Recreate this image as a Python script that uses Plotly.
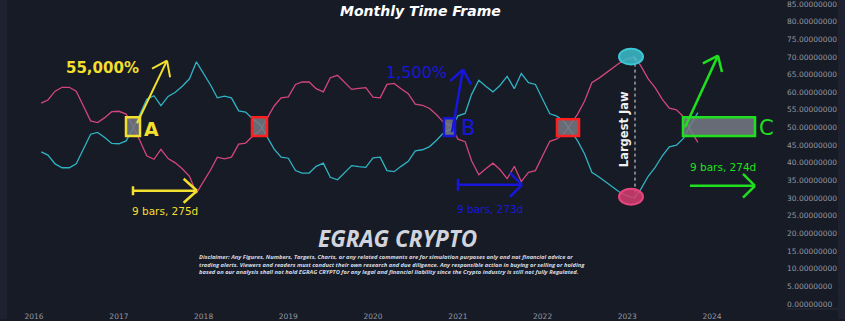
import math
import pandas as pd
import plotly.graph_objects as go

# ---------------- data (monthly readings) ----------------
months = pd.date_range("2016-02-01", periods=94, freq="MS")

cyan_vals = [43.1, 42.2, 39.7, 38.6, 38.6, 39.7, 43.9, 48.1, 48.6, 47.2,
             45.5, 45.4, 46.2, 49.5, 53.7, 58.0, 59.0, 56.2, 58.8, 60.0,
             61.7, 63.8, 68.6, 65.3, 61.9, 58.4, 58.9, 58.4, 54.7, 54.4,
             52.4, 50.9, 47.5, 43.9, 41.6, 41.3, 37.8, 37.1, 37.1, 39.0,
             39.9, 35.9, 35.2, 37.2, 39.2, 38.9, 38.7, 41.4, 41.6, 37.8,
             37.5, 39.0, 40.4, 43.4, 43.7, 44.6, 46.4, 48.6, 49.5, 53.3,
             54.0, 59.4, 63.4, 61.7, 60.1, 61.9, 64.5, 61.0, 65.3, 62.7,
             62.2, 58.0, 53.9, 53.3, 51.9, 49.1, 46.2, 42.5, 37.3, 36.0,
             34.5, 33.0, 31.6, 30.6, 30.0, 32.6, 36.2, 38.7, 42.0, 44.5,
             45.0, 47.0, 50.8, 54.2]

pink_vals = [56.9, 57.8, 60.3, 61.4, 61.4, 60.3, 56.1, 51.9, 51.4, 52.8,
             54.5, 54.6, 53.8, 50.5, 46.3, 42.0, 41.0, 43.8, 41.2, 40.0,
             38.3, 36.2, 31.4, 34.7, 38.1, 41.6, 41.1, 41.6, 45.3, 45.6,
             47.6, 49.1, 52.5, 56.1, 58.4, 58.7, 62.2, 62.9, 62.9, 61.0,
             60.1, 64.1, 64.8, 62.8, 60.8, 61.1, 61.3, 58.6, 58.4, 62.2,
             62.5, 61.0, 59.6, 56.6, 56.3, 55.4, 53.6, 51.4, 50.5, 46.7,
             46.0, 40.6, 36.6, 38.3, 39.9, 38.1, 35.5, 39.0, 34.7, 37.3,
             37.8, 42.0, 46.1, 46.7, 48.1, 50.9, 53.8, 57.5, 62.7, 64.0,
             65.5, 67.0, 68.4, 69.4, 70.0, 67.4, 63.8, 61.3, 58.0, 55.5,
             55.0, 53.0, 49.2, 45.8]

title_text = "Monthly Time Frame"
brand_text = "EGRAG CRYPTO"
disclaimer_lines = [
    "Disclaimer: Any Figures, Numbers, Targets, Charts, or any related comments are for simulation purposes only and not financial advice or",
    "trading alerts. Viewers and readers must conduct their own research and due diligence. Any responsible action in buying or selling or holding",
    "based on our analysis shall not hold EGRAG CRYPTO for any legal and financial liability since the Crypto industry is still not fully Regulated.",
]

# ---------------- layout geometry ----------------
W, H = 845, 321
M_R, M_B = 59, 12
PLOT_W = W - M_R
PLOT_H = H - M_B
T0 = pd.Timestamp("2016-01-01")
DAYS_PER_PX = 2922 / 678.0   # 2016 -> 2024 over 678 px
X_T0 = 34.0
Y_ZERO = 306.0
PX_PER_UNIT = 302.0 / 85.0


def dx(px):
    return (T0 + pd.Timedelta(days=(px - X_T0) * DAYS_PER_PX)).isoformat()


def dy(py):
    return (Y_ZERO - py) / PX_PER_UNIT


x_range = [dx(0), dx(PLOT_W)]
y_range = [dy(PLOT_H), dy(0)]

BG = "#171b26"
CYAN = "#2fb3c4"
PINK = "#d3467c"
YELLOW = "#f3df2e"
BLUE = "#1717dc"
GREEN = "#1fe01f"
RED = "#ff1f1f"
GRAYFILL = "rgba(118,121,132,0.85)"

fig = go.Figure()
fig.add_trace(go.Scatter(x=months, y=pink_vals, mode="lines",
                         line=dict(color=PINK, width=1.3), hoverinfo="skip"))
fig.add_trace(go.Scatter(x=months, y=cyan_vals, mode="lines",
                         line=dict(color=CYAN, width=1.3), hoverinfo="skip"))

shapes = []
annots = []


def line(x0, y0, x1, y1, color, width=2, dash=None):
    shapes.append(dict(type="line", xref="x", yref="y",
                       x0=dx(x0), y0=dy(y0), x1=dx(x1), y1=dy(y1),
                       line=dict(color=color, width=width, dash=dash)))


def arrow(x0, y0, x1, y1, color, width=2, head=16, ang=38, tick=0):
    line(x0, y0, x1, y1, color, width)
    L = math.hypot(x0 - x1, y0 - y1)
    ux, uy = (x0 - x1) / L, (y0 - y1) / L
    for s in (1, -1):
        a = math.radians(ang * s)
        bx = ux * math.cos(a) - uy * math.sin(a)
        by = ux * math.sin(a) + uy * math.cos(a)
        line(x1, y1, x1 + bx * head, y1 + by * head, color, width)
    if tick:
        px, py = -uy, ux
        line(x0 + px * tick, y0 + py * tick, x0 - px * tick, y0 - py * tick, color, width)


def rect(x0, y0, x1, y1, color, width=2.5):
    shapes.append(dict(type="rect", xref="x", yref="y",
                       x0=dx(x0), y0=dy(y0), x1=dx(x1), y1=dy(y1),
                       line=dict(color=color, width=width), fillcolor=GRAYFILL))


def ellipse(x0, y0, x1, y1, color, fill):
    shapes.append(dict(type="circle", xref="x", yref="y",
                       x0=dx(x0), y0=dy(y0), x1=dx(x1), y1=dy(y1),
                       line=dict(color=color, width=2), fillcolor=fill))


def text(cx, cy, s, color, size, bold=True, italic=False, family="DejaVu Sans",
         xanchor="center", angle=0, align="center"):
    annots.append(dict(x=dx(cx), y=dy(cy), xref="x", yref="y", text=s,
                       showarrow=False, xanchor=xanchor, yanchor="middle",
                       textangle=angle, align=align,
                       font=dict(color=color, size=size, family=family,
                                 weight="bold" if bold else "normal",
                                 style="italic" if italic else "normal")))


# side strips
shapes.append(dict(type="rect", xref="paper", yref="paper", x0=0, x1=7 / PLOT_W,
                   y0=-M_B / PLOT_H, y1=1, fillcolor="#1e2230", line=dict(width=0), layer="below"))
shapes.append(dict(type="rect", xref="paper", yref="paper", x0=838 / PLOT_W, x1=W / PLOT_W,
                   y0=-M_B / PLOT_H, y1=1, fillcolor="#1e2230", line=dict(width=0), layer="below"))
shapes.append(dict(type="line", xref="paper", yref="paper", x0=1, x1=838 / PLOT_W,
                   y0=-2 / PLOT_H, y1=-2 / PLOT_H, line=dict(color="#2a2e39", width=1)))

# A (yellow)
rect(126, 118, 140, 137, YELLOW)
text(151, 130, "A", YELLOW, 19)
text(102, 68, "55,000%", YELLOW, 15)
arrow(137, 124, 167, 61, YELLOW, 2, head=17, ang=36)
arrow(133, 192, 197, 192, YELLOW, 2.5, head=18, ang=42, tick=4.5)
text(165, 212, "9 bars, 275d", YELLOW, 10.5, bold=False)

# red box 1
rect(252, 118, 267, 137, RED)

# B (blue)
rect(444, 119, 455, 137, BLUE)
text(468, 129, "B", BLUE, 21, bold=False)
text(416, 73, "1,500%", BLUE, 16, bold=False)
arrow(452, 133, 463, 70, BLUE, 2.5, head=17, ang=38)
arrow(458, 186, 522, 186, BLUE, 2.5, head=17, ang=45, tick=6)
text(490, 210, "9 bars, 273d", BLUE, 10.5, bold=False)

# red box 2
rect(557, 120, 579, 137, RED)

# largest jaw
line(635, 58, 635, 198, "#e6e6e6", 1, dash="dot")
ellipse(619, 49, 643, 65, "#3cc6d6", "rgba(60,190,205,0.85)")
ellipse(619, 190, 643, 206, "#e8457e", "rgba(215,60,110,0.85)")
text(624, 130, "Largest Jaw", "#f0f0f0", 11.5, bold=True, angle=-90)

# C (green)
rect(683, 118, 755, 137, GREEN)
text(766, 129, "C", GREEN, 21, bold=False)
arrow(685, 128, 718, 56, GREEN, 2.5, head=17, ang=38)
arrow(690, 187, 755, 187, GREEN, 2.5, head=17, ang=45)
text(723, 168, "9 bars, 274d", GREEN, 10.5, bold=False)

# titles
text(420, 11, title_text, "#ffffff", 14, bold=True, italic=True)
text(397, 240.5, brand_text, "#d1d4dc", 22.5, bold=True, italic=True, family="Open Sans")
text(197, 266.5, "<br>".join(disclaimer_lines), "#d8dae0", 5.8, bold=True, italic=True,
     family="Open Sans", xanchor="left", align="left")

fig.update_layout(
    width=W, height=H,
    margin=dict(l=0, r=M_R, t=0, b=M_B),
    paper_bgcolor=BG, plot_bgcolor=BG,
    showlegend=False,
    shapes=shapes, annotations=annots,
    xaxis=dict(type="date", range=x_range, tickformat="%Y", dtick="M12",
               tick0="2016-01-01", showgrid=False, zeroline=False, showline=False,
               ticks="", ticklabelstandoff=3, ticklabeloverflow="allow",
               tickfont=dict(size=7.5, color="#9598a1", family="DejaVu Sans")),
    yaxis=dict(side="right", range=y_range, dtick=5, tick0=0, tickformat=".8f",
               showgrid=False, zeroline=False, showline=False, ticks="",
               ticklabeloverflow="allow",
               tickfont=dict(size=7.5, color="#9598a1", family="DejaVu Sans")),
)

fig.write_html("out.html")
